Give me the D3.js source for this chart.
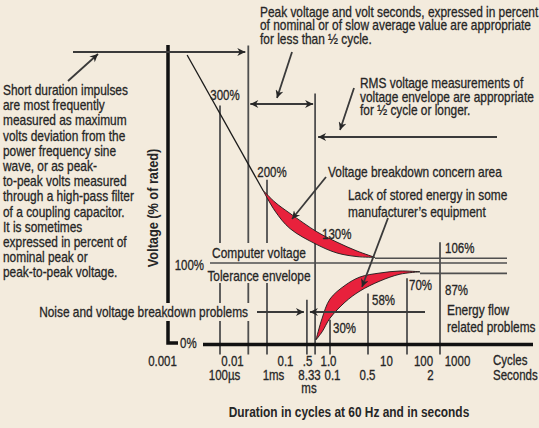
<!DOCTYPE html>
<html>
<head>
<meta charset="utf-8">
<script src="https://cdn.jsdelivr.net/npm/d3@7"></script>
<style>
    body { margin: 0; background: #f3ebdd; }
    svg { display: block; }
    text { font-family: "Liberation Sans", Arial, sans-serif; fill: #262626; font-size: 14.5px; stroke: #262626; stroke-width: 0.3px; }
    .bold { font-weight: bold; stroke: none; }
</style>
</head>
<body>
<svg id="chart"></svg>
<script>
// x axis: cycles at 60 Hz, and the seconds row under it
var cycleTicks = [0.001, 0.01, 0.1, 0.5, 1, 10, 100, 1000];
var cycleLabels = ["0.001", "0.01", "0.1", ".5", "1.0", "10", "100", "1000"];
var secondTicks = [0.0001, 0.001, 0.00833, 0.1, 0.5, 2];
var secondLabels = ["100µs", "1ms", "8.33", "0.1", "0.5", "2"];

// vertical reference lines (cycles) and how high they reach (% of rated)
var gridCycles = [0.01, 0.04, 0.1, 0.43, 0.58, 1, 10, 100, 1000];
var gridTops = [297, 372, 204, 54, 312, 29, 62, 81, 126];

// horizontal reference lines (% of rated) and the cycle where each starts
var refPcts = [106, 100, 87];
var refStarts = [15.1, 0.0063, 248];

// upper envelope: straight part, then the red band
var upperLine = [[0.0022, 360], [0.082, 191]];
var upperCycles = [0.082, 0.134, 0.232, 0.62, 1.53, 5.13, 15.1];
var upperHigh = [191, 176, 162, 139, 126, 115, 107];
var upperLow = [191, 165, 143, 123, 112.5, 108, 107];

// lower envelope red band
var lowerCycles = [0.6, 0.75, 1, 2.48, 6.16, 20.3, 66, 248];
var lowerHigh = [4, 31, 55, 72, 82.5, 87.5, 90, 89];
var lowerLow = [4, 14, 31, 51, 65, 77.5, 86, 89];

// percentage marks: label, cycles, %
var pctMarks = [
    ["300%", 0.01, 300], ["200%", 0.1, 200], ["130%", 1.5, 130], ["106%", 1000, 106],
    ["87%", 1000, 87], ["70%", 100, 70], ["58%", 10, 58], ["30%", 1, 30]
];

var leftNote = [
    "Short duration impulses", "are most frequently", "measured as maximum",
    "volts deviation from the", "power frequency sine", "wave, or as peak-",
    "to-peak volts measured", "through a high-pass filter", "of a coupling capacitor.",
    "It is sometimes", "expressed in percent of", "nominal peak or", "peak-to-peak voltage."
];
var peakNote = [
    "Peak voltage and volt seconds, expressed in percent",
    "of nominal or of slow average value are appropriate",
    "for less than ½ cycle."
];
var rmsNote = ["RMS voltage measurements of", "voltage envelope are appropriate", "for ½ cycle or longer."];
var lackNote = ["Lack of stored energy in some", "manufacturer’s equipment"];
var energyNote = ["Energy flow", "related problems"];

var W = 539, H = 428;
var bg = "#f3ebdd", ink = "#262626", gridC = "#4f4f4f", red = "#e8213c";
var svg = d3.select("#chart").attr("width", W).attr("height", H);
svg.append("rect").attr("width", W).attr("height", H).attr("fill", bg);

var x = d3.scaleLog()
    .domain([0.001, 0.01, 0.1, 1, 10, 100, 1000])
    .range([170, 220, 267, 330, 368, 407, 440]);
var y = d3.scaleLinear().domain([0, 100]).range([343, 263]);
var labelX = d3.scaleLog().domain(cycleTicks).range([162, 232, 285, 307, 328, 386, 423, 457]);
var secX = d3.scaleLog().domain(secondTicks).range([224, 273, 309, 332, 367, 430]);
var axisY = 344.5, plotRight = 507, axisX = 168;

var defs = svg.append("defs");
defs.append("marker")
    .attr("id", "head")
    .attr("viewBox", "0 0 10 10")
    .attr("refX", 10).attr("refY", 5)
    .attr("markerWidth", 12).attr("markerHeight", 8)
    .attr("markerUnits", "userSpaceOnUse")
    .attr("orient", "auto-start-reverse")
    .append("path")
    .attr("d", "M0,0L10,5L0,10L3,5Z")
    .attr("fill", ink);

// vertical lines
svg.append("g").selectAll("line")
    .data(gridCycles)
    .join("line")
    .attr("x1", function (d) { return x(d); })
    .attr("x2", function (d) { return x(d); })
    .attr("y1", function (d, i) { return y(gridTops[i]); })
    .attr("y2", axisY + 10)
    .attr("stroke", gridC)
    .attr("stroke-width", 1.8);

// paper behind the two text blocks that cut through the lines
svg.append("rect").attr("x", 208).attr("y", 243).attr("width", 102).attr("height", 40).attr("fill", bg);
svg.append("rect").attr("x", 38).attr("y", 303).attr("width", 214).attr("height", 18).attr("fill", bg);

// horizontal lines
svg.append("g").selectAll("line")
    .data(refPcts)
    .join("line")
    .attr("x1", function (d, i) { return x(refStarts[i]); })
    .attr("x2", plotRight)
    .attr("y1", function (d) { return y(d); })
    .attr("y2", function (d) { return y(d); })
    .attr("stroke", gridC)
    .attr("stroke-width", 1.6);

// axes
svg.append("path")
    .attr("d", `M${axisX},45V303M${axisX},321V${axisY - 1.5}H178`)
    .attr("fill", "none").attr("stroke", "#111").attr("stroke-width", 3.5);
svg.append("line")
    .attr("x1", 203).attr("x2", 533).attr("y1", axisY).attr("y2", axisY)
    .attr("stroke", "#111").attr("stroke-width", 3.5);

// envelope curves
var bandArea = d3.area()
    .x(function (d) { return x(d.c); })
    .y0(function (d) { return y(d.lo); })
    .y1(function (d) { return y(d.hi); })
    .curve(d3.curveCatmullRom);
var upperBand = upperCycles.map(function (c, i) { return { c: c, hi: upperHigh[i], lo: upperLow[i] }; });
var lowerBand = lowerCycles.map(function (c, i) { return { c: c, hi: lowerHigh[i], lo: lowerLow[i] }; });
svg.selectAll("path.band")
    .data([upperBand, lowerBand])
    .join("path")
    .attr("class", "band")
    .attr("d", bandArea)
    .attr("fill", red)
    .attr("stroke", "#1a1a1a")
    .attr("stroke-width", 0.9);
svg.append("path")
    .attr("d", d3.line().x(function (d) { return x(d[0]); }).y(function (d) { return y(d[1]); })(upperLine))
    .attr("fill", "none").attr("stroke", "#1a1a1a").attr("stroke-width", 1.3);

// annotation arrows
var arrow = function (pts, both) {
    svg.append("path")
        .attr("d", d3.line()(pts))
        .attr("fill", "none")
        .attr("stroke", "#3a3a3a")
        .attr("stroke-width", 1.8)
        .attr("marker-end", "url(#head)")
        .attr("marker-start", both ? "url(#head)" : null);
};
arrow([[73, 52], [x(0.04) - 3, 52]]);
arrow([[68, 81], [98, 54]]);
arrow([[292, 52], [277, 98]]);
arrow([[x(0.04) + 2, 104], [x(0.58) - 2, 104]], true);
arrow([[354, 88], [340, 130]]);
arrow([[497, 137], [x(0.58) + 3, 137]]);
arrow([[326, 177], [292, 219]]);
arrow([[388, 218], [362, 287]]);
arrow([[257, 312], [x(0.43) - 3, 312]]);
arrow([[425, 312], [x(0.43) + 3, 312]]);

// x axis labels
var cycAxis = d3.axisBottom(labelX).tickValues(cycleTicks)
    .tickFormat(function (d, i) { return cycleLabels[i]; }).tickSize(0);
var secAxis = d3.axisBottom(secX).tickValues(secondTicks)
    .tickFormat(function (d, i) { return secondLabels[i]; }).tickSize(0);
[[cycAxis, 366], [secAxis, 380]].forEach(function (a) {
    var g = svg.append("g").attr("transform", `translate(0,${a[1]})`).call(a[0]);
    g.attr("font-family", null).attr("font-size", null);
    g.select(".domain").remove();
    g.selectAll("text").attr("y", 0).attr("dy", null).attr("fill", null).style("font-size", "14px");
});
svg.append("text").attr("x", secX(0.00833)).attr("y", 393).attr("text-anchor", "middle").style("font-size", "14px").text("ms");
svg.append("text").attr("x", 493).attr("y", 365).style("font-size", "14px").text("Cycles");
svg.append("text").attr("x", 493).attr("y", 380).style("font-size", "14px").text("Seconds");
svg.append("text").attr("class", "bold").attr("x", 349).attr("y", 417).attr("text-anchor", "middle")
    .text("Duration in cycles at 60 Hz and in seconds");
svg.append("text").attr("class", "bold").attr("text-anchor", "middle")
    .attr("transform", "translate(158,208) rotate(-90)")
    .style("font-size", "15.5px")
    .text("Voltage (% of rated)");

// y labels
svg.append("text").attr("x", 204).attr("y", y(100) + 7).attr("text-anchor", "end").style("font-size", "14px").text("100%");
svg.append("text").attr("x", 180).attr("y", y(0) + 5).style("font-size", "14px").text("0%");

// percentage marks: [dx, dy, anchor] placement next to their value
var markPlace = [[5, -3, "middle"], [5, -6, "middle"], [0, 0, "middle"], [5, -5, "start"],
    [5, 22, "start"], [2, 3, "start"], [4, 8, "start"], [3, 14, "start"]];
svg.append("g").selectAll("text")
    .data(pctMarks)
    .join("text")
    .attr("x", function (d, i) { return x(d[1]) + markPlace[i][0]; })
    .attr("y", function (d, i) { return y(d[2]) + markPlace[i][1]; })
    .attr("text-anchor", function (d, i) { return markPlace[i][2]; })
    .style("font-size", "14px")
    .text(function (d) { return d[0]; });

// notes
var block = function (lines, x0, y0, step, anchor) {
    svg.append("g").selectAll("text")
        .data(lines)
        .join("text")
        .attr("x", x0)
        .attr("y", function (d, i) { return y0 + i * step; })
        .attr("text-anchor", anchor || "start")
        .text(function (d) { return d; });
};
block(leftNote, 3, 95, 15.2);
block(peakNote, 260, 17, 13.3);
block(rmsNote, 360, 88, 13.5);
block(["Voltage breakdown concern area"], 328, 177, 0);
block(lackNote, 348, 200, 17);
block(["Computer voltage"], 259, 258, 0, "middle");
block(["Tolerance envelope"], 259, 281, 0, "middle");
block(["Noise and voltage breakdown problems"], 248, 317, 0, "end");
block(energyNote, 447, 315, 17);

// the original lettering is a condensed face: squeeze every label the same way
svg.selectAll("text").each(function () {
    var w = this.getComputedTextLength();
    if (w > 0) {
        d3.select(this).attr("textLength", w * 0.82).attr("lengthAdjust", "spacingAndGlyphs");
    }
});
</script>
</body>
</html>
